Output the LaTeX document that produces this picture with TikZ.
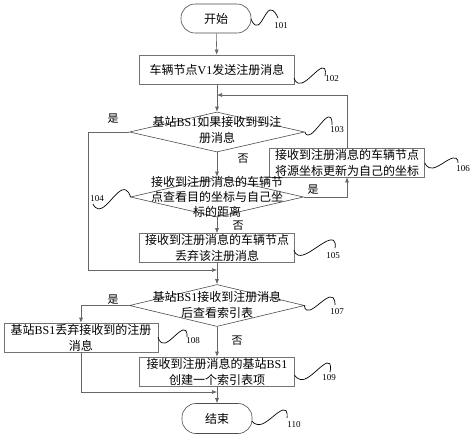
\documentclass[tikz,border=0pt]{standalone}
\usepackage{fontspec}
\setmainfont{Liberation Serif}
\newfontfamily\cjk{Noto Sans CJK SC}
\usetikzlibrary{arrows.meta,shapes.geometric}
\begin{document}
\begin{tikzpicture}[x=1pt,y=-1pt,
  line/.style={draw=black!60, line width=0.6pt},
  arr/.style={line, -{Latex[length=5pt,width=4pt]}},
  box/.style={draw=black!55, line width=0.6pt, minimum width=155pt, minimum height=29pt, inner sep=0pt,
    align=center, font=\cjk\fontsize{12}{16}\selectfont},
  term/.style={draw=black!70, line width=0.6pt, rounded corners=14pt, minimum width=70pt, minimum height=29pt, inner sep=0pt,
    font=\cjk\fontsize{12}{14}\selectfont},
  dia/.style={draw=black!70, line width=0.6pt, diamond, inner sep=0pt},
  txt/.style={align=center, inner sep=0pt, font=\cjk\fontsize{12}{16}\selectfont},
  yn/.style={inner sep=0pt, font=\cjk\fontsize{11}{13}\selectfont},
  num/.style={inner sep=0pt, font=\fontsize{9}{10}\selectfont},
  sq/.style={draw=black, line width=0.7pt}
]
\useasboundingbox (0,0) rectangle (474,437);

% nodes
\node[term] (n101) at (216,18.5) {开始};
\node[box] (n102) at (217,69.5) {车辆节点\textrm{V1}发送注册消息};
\node[dia, minimum width=175pt, minimum height=40pt] (d103) at (217,132) {};
\node[txt] (t103) at (217,130) {基站\textrm{BS1}如果接收到到注\\册消息};
\node[box] (n106) at (347,162.5) {接收到注册消息的车辆节点\\将源坐标更新为自己的坐标};
\node[dia, minimum width=173pt, minimum height=40pt] (d104) at (217,197) {};
\node[txt, font=\cjk\fontsize{12}{15}\selectfont] (t104) at (217,197) {接收到注册消息的车辆节\\点查看目的坐标与自己坐\\标的距离};
\node[box] (n105) at (217,248) {接收到注册消息的车辆节点\\丢弃该注册消息};
\node[dia, minimum width=175pt, minimum height=42pt] (d107) at (217,305.5) {};
\node[txt] (t107) at (217,305) {基站\textrm{BS1}接收到注册消息\\后查看索引表};
\node[box, minimum width=154pt] (n108) at (81,337.5) {基站\textrm{BS1}丢弃接收到的注册\\消息};
\node[box] (n109) at (217,371.5) {接收到注册消息的基站\textrm{BS1}\\创建一个索引表项};
\node[term, minimum height=30pt] (n110) at (217,418.5) {结束};

% junctions
\coordinate (j1) at (217,95);
\coordinate (j2) at (217,270);
\coordinate (c1) at (88,270);
\coordinate (j3) at (217,392);

% connectors
\draw[arr] (n101) -- (n102);
\draw[arr] (n102) -- (d103);
\draw[arr] (n106.north) |- (j1);
\draw[arr] (d103.west) -| (c1) -- (j2);
\draw[arr] (d103) -- (d104);
\draw[arr] (d104.east) -| (n106.south);
\draw[arr] (d104) -- (n105);
\draw[arr] (n105) -- (d107);
\draw[arr] (d107.west) -| (n108.north);
\draw[arr] (d107) -- (n109);
\draw[arr] (n108.south) |- (j3);
\draw[arr] (n109) -- (n110);

% yes / no labels
\node[yn] (y1) at (113,119) {是};
\node[yn] (no1) at (243,159) {否};
\node[yn] (y2) at (313,190) {是};
\node[yn] (no2) at (238,226) {否};
\node[yn] (y3) at (113,300) {是};
\node[yn] (no3) at (237,341) {否};

% reference numerals and callout squiggles
\draw[sq] plot[smooth, tension=0.8] coordinates {(251,19) (258,25) (270,10) (278,18)};
\node[num] (l101) at (281,26) {101};
\draw[sq] plot[smooth, tension=0.8] coordinates {(294,78) (302,83) (322,68) (325,76)};
\node[num] (l102) at (332,79) {102};
\draw[sq] plot[smooth, tension=0.8] coordinates {(305,132) (311,134) (328,117) (332,125)};
\node[num] (l103) at (337,130) {103};
\draw[sq] plot[smooth, tension=0.8] coordinates {(93,204) (102,208) (122,190) (130.5,197)};
\node[num] (l104) at (97,199) {104};
\draw[sq] plot[smooth, tension=0.8] coordinates {(294,250) (303,255) (330,240) (335,248)};
\node[num] (l105) at (333,256) {105};
\draw[sq] plot[smooth, tension=0.8] coordinates {(425,163) (433,168) (453,158) (458,163)};
\node[num] (l106) at (463,169) {106};
\draw[sq] plot[smooth, tension=0.8] coordinates {(304.5,305.5) (310,310) (330,297) (335,305)};
\node[num] (l107) at (337,312) {107};
\draw[sq] plot[smooth, tension=0.8] coordinates {(158,337) (165,343) (183,330) (187,337)};
\node[num] (l108) at (193,341) {108};
\draw[sq] plot[smooth, tension=0.8] coordinates {(294.5,375) (305,379) (327,363) (330,372)};
\node[num] (l109) at (329,378) {109};
\draw[sq] plot[smooth, tension=0.8] coordinates {(252,421) (262,424) (283,410) (287,418)};
\node[num] (l110) at (294,425) {110};
\end{tikzpicture}
\end{document}
